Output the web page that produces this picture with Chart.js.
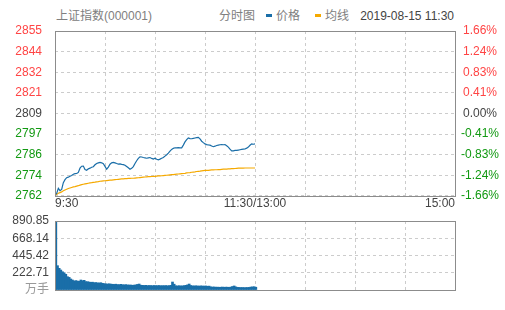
<!DOCTYPE html>
<html>
<head>
<meta charset="utf-8">
<script src="https://cdn.jsdelivr.net/npm/chart.js@4.4.1/dist/chart.umd.min.js"></script>
<style>
  body { margin: 0; background: #fff; }
  #wrap { position: relative; width: 505px; height: 310px; font-family: 'Liberation Sans', Arial, 'Noto Sans CJK SC', sans-serif; font-size: 12px; }
  .hd { position: absolute; top: 8px; line-height: 16px; color: #808080; white-space: nowrap; }
  .dash { position: absolute; top: 14px; width: 6px; height: 3px; }
  canvas { position: absolute; left: 0; }
</style>
</head>
<body>
<div id="wrap">
  <span class="hd" style="left:56px">上证指数(000001)</span>
  <span class="hd" style="left:219px">分时图</span>
  <span class="dash" style="left:266px;background:#1a6ea8"></span>
  <span class="hd" style="left:276px">价格</span>
  <span class="dash" style="left:315px;background:#f5a900"></span>
  <span class="hd" style="left:325px">均线</span>
  <span class="hd" style="right:51px;color:#444">2019-08-15 11:30</span>
  <canvas id="priceChart" width="505" height="216" style="top:0"></canvas>
  <canvas id="volChart" width="505" height="104" style="top:206px"></canvas>
</div>
<script>
// minute-by-minute values, 9:30 .. 11:30
const priceValues = [
  2762.9, 2763.8, 2766.6, 2765.3, 2766.0, 2769.8, 2771.5, 2772.6, 2772.9, 2773.4,
  2773.9, 2774.6, 2774.9, 2775.0, 2775.6, 2778.0, 2779.1, 2779.2, 2777.2, 2776.8,
  2777.6, 2778.0, 2778.5, 2778.8, 2779.9, 2780.6, 2781.0, 2781.3, 2781.0, 2780.5,
  2779.0, 2777.4, 2778.6, 2780.2, 2781.0, 2781.3, 2781.0, 2780.6, 2780.3, 2780.4,
  2780.1, 2780.0, 2779.6, 2778.9, 2778.2, 2777.4, 2777.9, 2778.9, 2780.6, 2782.2,
  2783.5, 2784.4, 2784.3, 2784.0, 2783.8, 2783.6, 2783.8, 2784.0, 2783.5, 2783.1,
  2783.6, 2783.0, 2782.7, 2783.1, 2783.6, 2784.0, 2784.8, 2785.6, 2786.5, 2787.6,
  2788.6, 2789.2, 2789.5, 2789.4, 2789.6, 2789.5, 2789.5, 2791.0, 2792.8, 2794.1,
  2795.0, 2794.7, 2794.6, 2794.8, 2795.0, 2795.2, 2795.4, 2794.5, 2793.2, 2792.4,
  2791.7, 2791.3, 2791.1, 2791.0, 2790.5, 2790.1, 2790.4, 2790.8, 2791.0, 2791.2,
  2791.3, 2791.2, 2791.3, 2790.6, 2789.9, 2788.7, 2787.7, 2787.8, 2788.0, 2788.0,
  2788.2, 2788.4, 2788.6, 2788.7, 2788.8, 2789.3, 2789.9, 2790.9, 2791.7, 2791.5,
  2791.7
];
const avgValues = [
  2762.9, 2763.2, 2763.8, 2764.2, 2764.6, 2765.2, 2765.7, 2766.1, 2766.5, 2766.8,
  2767.1, 2767.4, 2767.6, 2767.9, 2768.1, 2768.4, 2768.7, 2768.9, 2769.1, 2769.3,
  2769.5, 2769.7, 2769.8, 2770.0, 2770.1, 2770.3, 2770.4, 2770.6, 2770.7, 2770.8,
  2770.9, 2771.0, 2771.1, 2771.2, 2771.3, 2771.4, 2771.5, 2771.6, 2771.7, 2771.8,
  2771.9, 2772.0, 2772.1, 2772.1, 2772.2, 2772.2, 2772.3, 2772.3, 2772.4, 2772.5,
  2772.6, 2772.7, 2772.8, 2772.9, 2773.0, 2773.1, 2773.2, 2773.2, 2773.3, 2773.4,
  2773.4, 2773.5, 2773.6, 2773.6, 2773.7, 2773.8, 2773.9, 2774.0, 2774.1, 2774.2,
  2774.3, 2774.4, 2774.5, 2774.6, 2774.7, 2774.8, 2774.9, 2775.0, 2775.1, 2775.3,
  2775.4, 2775.5, 2775.7, 2775.8, 2775.9, 2776.1, 2776.2, 2776.3, 2776.5, 2776.6,
  2776.7, 2776.8, 2776.8, 2776.9, 2777.0, 2777.0, 2777.1, 2777.1, 2777.2, 2777.2,
  2777.3, 2777.4, 2777.4, 2777.5, 2777.6, 2777.6, 2777.7, 2777.7, 2777.8, 2777.9,
  2778.0, 2778.0, 2778.0, 2778.0, 2778.1, 2778.1, 2778.1, 2778.1, 2778.1, 2778.1,
  2778.1
];
const volumeValues = [
  890.85, 314, 280, 258, 236, 223, 203, 172, 163, 142,
  129, 116, 121, 116, 112, 129, 120, 125, 108, 107,
  103, 99, 101, 94, 96, 92, 90, 94, 86, 82,
  79, 77, 80, 76, 74, 72, 75, 70, 68, 73,
  68, 66, 69, 65, 64, 64, 61, 63, 66, 72,
  77, 62, 60, 58, 60, 56, 58, 57, 55, 58,
  56, 56, 58, 54, 56, 55, 57, 54, 56, 60,
  103, 75, 54, 52, 55, 52, 53, 56, 60, 66,
  77, 58, 53, 52, 54, 52, 50, 53, 51, 50,
  52, 48, 50, 40, 38, 39, 36, 37, 35, 36,
  38, 35, 37, 36, 34, 38, 45, 52, 40, 34,
  33, 31, 32, 30, 31, 32, 33, 38, 40, 42,
  36
];

const prevClose = 2808.9;
const priceSpan = 46.5;
const priceTickLabels = ['2762', '2774', '2786', '2797', '2809', '2821', '2832', '2844', '2855'];
const pctTickLabels = ['-1.66%', '-1.24%', '-0.83%', '-0.41%', '0.00%', '0.41%', '0.83%', '1.24%', '1.66%'];
const timeTickValues = [0, 120, 240];
const timeTickLabels = ['9:30', '11:30/13:00', '15:00'];
const volTickValues = [0, 222.71, 445.42, 668.14, 890.85];
const volTickLabels = ['万手', '222.71', '445.42', '668.14', '890.85'];

const RED = '#ff4444', GREEN = '#119911', GREY = '#444444';
const BLUE = '#1a6ea8', ORANGE = '#f5a900';
const GRID = '#cccccc';

Chart.defaults.font.family = "'Liberation Sans', Arial, 'Noto Sans CJK SC', sans-serif";
Chart.defaults.font.size = 12;
Chart.defaults.animation = false;

const framePlugin = {
    id: 'frame',
    afterDraw(chart) {
        const { ctx, chartArea: a } = chart;
        ctx.save();
        ctx.strokeStyle = '#8c8c8c';
        ctx.lineWidth = 1;
        ctx.strokeRect(Math.round(a.left) + 0.5, Math.round(a.top) + 0.5,
            Math.round(a.right - a.left), Math.round(a.bottom - a.top));
        ctx.restore();
    }
};

const yMin = prevClose - priceSpan;
const yMax = prevClose + priceSpan;
const priceTicks = scale => {
    const n = priceTickLabels.length - 1;
    scale.ticks = priceTickLabels.map((_, i) => ({ value: yMin + i * (yMax - yMin) / n }));
};
const sideColor = c => c.index < 4 ? GREEN : (c.index === 4 ? GREY : RED);

const timeAxis = (showLabels) => ({
    type: 'linear',
    min: 0,
    max: 240,
    offset: false,
    grid: { color: GRID, drawTicks: false, offset: false },
    border: { display: false, dash: [3, 3] },
    ticks: {
        display: showLabels,
        stepSize: 30,
        autoSkip: false,
        maxRotation: 0,
        align: 'inner',
        padding: 1,
        color: '#444',
        callback: v => {
            const k = timeTickValues.indexOf(v);
            return k < 0 ? '' : timeTickLabels[k];
        }
    },
    afterFit: s => { s.height = showLabels ? 16 : 0; }
});

new Chart(document.getElementById('priceChart'), {
    type: 'line',
    data: {
        datasets: [
            {
                label: '价格',
                data: priceValues.map((y, i) => ({ x: i, y })),
                borderColor: BLUE,
                borderWidth: 1.2,
                pointRadius: 0,
                tension: 0
            },
            {
                label: '均线',
                data: avgValues.map((y, i) => ({ x: i, y })),
                borderColor: ORANGE,
                borderWidth: 1.2,
                pointRadius: 0,
                tension: 0
            }
        ]
    },
    options: {
        responsive: false,
        layout: { padding: { top: 31, left: 0, right: 0, bottom: 0 } },
        plugins: { legend: { display: false }, tooltip: { enabled: false } },
        scales: {
            x: timeAxis(true),
            y: {
                position: 'left',
                min: yMin,
                max: yMax,
                afterBuildTicks: priceTicks,
                afterFit: s => { s.width = 55; },
                grid: { color: GRID, drawTicks: false },
                border: { display: false, dash: [3, 3] },
                ticks: {
                    autoSkip: false,
                    padding: 13,
                    color: sideColor,
                    callback: (v, i) => priceTickLabels[i]
                }
            },
            yPct: {
                position: 'right',
                min: yMin,
                max: yMax,
                afterBuildTicks: priceTicks,
                afterFit: s => { s.width = 50; },
                grid: { display: false, drawTicks: false },
                border: { display: false },
                ticks: {
                    autoSkip: false,
                    padding: 6,
                    crossAlign: 'center',
                    color: sideColor,
                    callback: (v, i) => pctTickLabels[i]
                }
            }
        }
    },
    plugins: [framePlugin]
});

new Chart(document.getElementById('volChart'), {
    type: 'bar',
    data: {
        datasets: [{
            label: '成交量',
            data: volumeValues.map((y, i) => ({ x: i + 0.5, y })),
            backgroundColor: BLUE,
            borderWidth: 0,
            barThickness: 2
        }]
    },
    options: {
        responsive: false,
        layout: { padding: { top: 15, left: 0, right: 50, bottom: 20 } },
        plugins: { legend: { display: false }, tooltip: { enabled: false } },
        scales: {
            x: timeAxis(false),
            y: {
                position: 'left',
                min: 0,
                max: volTickValues[volTickValues.length - 1],
                afterBuildTicks: s => { s.ticks = volTickValues.map(v => ({ value: v })); },
                afterFit: s => { s.width = 55; s.paddingTop = 0; s.paddingBottom = 0; },
                grid: { color: GRID, drawTicks: false },
                border: { display: false, dash: [3, 3] },
                ticks: {
                    autoSkip: false,
                    padding: 6,
                    color: c => c.index === 0 ? '#999' : '#444',
                    callback: (v, i) => volTickLabels[i]
                }
            }
        }
    },
    plugins: [framePlugin]
});
</script>
</body>
</html>
